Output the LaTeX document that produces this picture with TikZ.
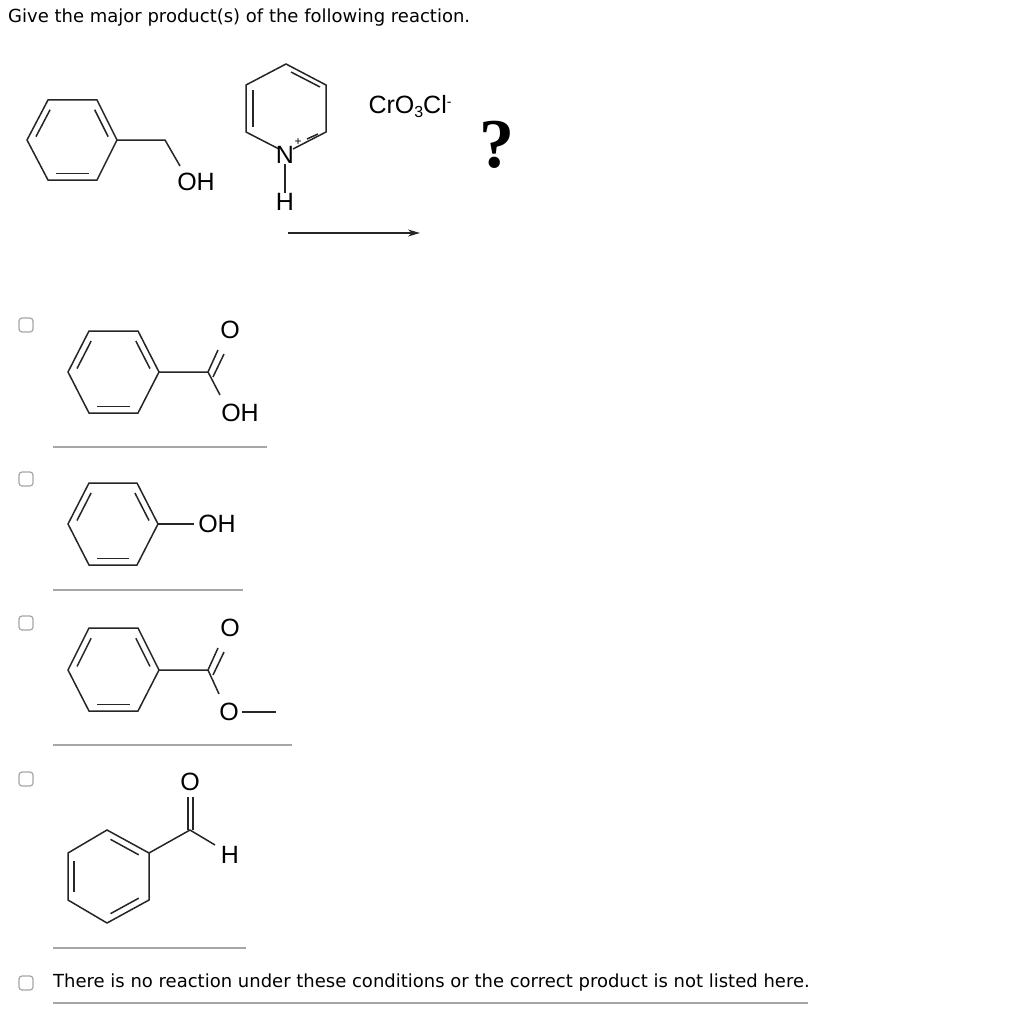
\documentclass[tikz,border=0pt]{standalone}
\usepackage{fontspec}
\setmainfont{DejaVu Sans}
\newfontfamily\arial{Liberation Sans}
\newfontfamily\serifb{Liberation Serif}
\usetikzlibrary{calc,arrows.meta}
\newcommand\benz[6]{%
 \coordinate (b1) at #1; \coordinate (b2) at #2; \coordinate (b3) at #3;
 \coordinate (b4) at #4; \coordinate (b5) at #5; \coordinate (b6) at #6;
 \draw[bond] (b1)--(b2)--(b3)--(b4)--(b5)--(b6)--cycle;
 \coordinate (bc) at ($(b1)!0.5!(b4)$);
 \foreach \p/\q in {b1/b2,b3/b4,b5/b6}{%
  \coordinate (ip) at ($(\p)!0.16!(bc)$);
  \coordinate (iq) at ($(\q)!0.16!(bc)$);
  \draw[bond] ($(ip)!0.1!(iq)$)--($(ip)!0.9!(iq)$);}}
\tikzset{bond/.style={line width=1.5pt,black!85},
 lbl/.style={font=\arial\fontsize{25}{25}\selectfont,inner sep=0pt},
 sep/.style={draw=black!35,line width=1.2pt},
 cbox/.style={draw=black!35,line width=1.2pt,rounded corners=3pt,minimum size=14pt,inner sep=0pt},
 txt/.style={font=\fontsize{18}{20}\selectfont,anchor=west,inner sep=0pt}}
\begin{document}
\begin{tikzpicture}[x=1pt,y=-1pt]
\useasboundingbox[fill=white] (0,0) rectangle (1024,1014);
\node[txt] (title) at (8,18) {Give the major product(s) of the following reaction.};
% reactant
\benz{(27,140)}{(48,100)}{(97,100)}{(117,140)}{(97,180)}{(48,180)}
\node[lbl] (oh0) at (196,182) {OH};
\draw[bond] (117,140)--(165,140)--(180,166);
% pyridinium
\draw[bond] (293,149)--(326,132)--(326,85)--(286,64)--(246,85)--(246,132)--(279,149);
\draw[bond] (253,90)--(253,127);
\draw[bond] (291,72)--(320,87);
\draw[bond] (307,139)--(318,134);
\node[lbl] (n) at (285,155) {N};
\node[font=\arial\fontsize{12}{12}\selectfont,inner sep=0pt] (plus) at (298,142) {+};
\node[lbl] (h) at (285,202) {H};
\draw[bond] (n)--(h);
\node[lbl] (cro) at (410,107) {CrO\raisebox{-4pt}{\fontsize{16}{16}\selectfont 3}Cl\raisebox{7pt}{\fontsize{14}{14}\selectfont -}};
\node[font=\serifb\bfseries\fontsize{70}{70}\selectfont,inner sep=0pt] (q) at (497,145) {?};
\coordinate (a1) at (288,233); \coordinate (a2) at (420,233);
\draw[bond,-{Stealth[length=12pt,width=7pt]}] (a1)--(a2);
% option 1
\node[cbox] (c1) at (26,325) {};
\benz{(68,372)}{(89,331)}{(138,331)}{(159,372)}{(138,413)}{(89,413)}
\node[lbl] (o1) at (230,330) {O};
\node[lbl] (oh1) at (240,413) {OH};
\draw[bond] (159,372)--(208,372)--(220,395);
\draw[bond] (208,372)--(218,350); \draw[bond] (213,377)--(224,354);
\draw[sep] (53,447)--(267,447);
% option 2
\node[cbox] (c2) at (26,479) {};
\benz{(68,524)}{(89,483)}{(137,483)}{(158,524)}{(137,565)}{(89,565)}
\draw[bond] (158,524)--(194,524);
\node[lbl] (oh2) at (217,524) {OH};
\draw[sep] (53,590)--(243,590);
% option 3
\node[cbox] (c3) at (26,623) {};
\benz{(68,670)}{(89,628)}{(138,628)}{(159,670)}{(138,711)}{(89,711)}
\node[lbl] (o3) at (230,628) {O};
\node[lbl] (o3b) at (229,712) {O};
\draw[bond] (159,670)--(208,670)--(219,694);
\draw[bond] (208,670)--(218,648); \draw[bond] (213,675)--(224,652);
\draw[bond] (242,712)--(276,712);
\draw[sep] (53,745)--(292,745);
% option 4
\node[cbox] (c4) at (26,779) {};
\benz{(107,830)}{(149,853)}{(149,900)}{(107,923)}{(68,900)}{(68,853)}
\node[lbl] (o4) at (190,782) {O};
\node[lbl] (h4) at (230,855) {H};
\draw[bond] (149,853)--(190,830)--(215,845);
\draw[bond] (188,830)--(188,797); \draw[bond] (193,830)--(193,797);
\draw[sep] (53,948)--(246,948);
% option 5
\node[cbox] (c5) at (26,983) {};
\node[txt] (t5) at (53,983) {There is no reaction under these conditions or the correct product is not listed here.};
\draw[sep] (53,1003)--(808,1003);
\end{tikzpicture}
\end{document}
